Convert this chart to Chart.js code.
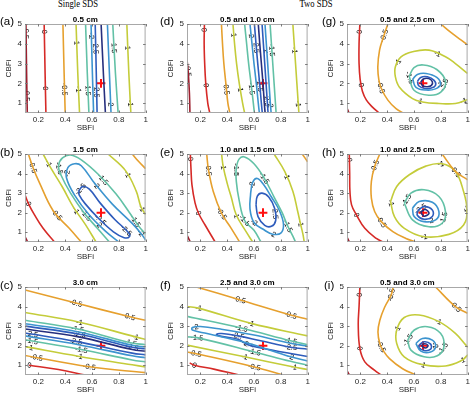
<!DOCTYPE html>
<html><head><meta charset="utf-8">
<script src="https://cdn.jsdelivr.net/npm/chart.js@4.4.1/dist/chart.umd.min.js"></script>
<style>
html,body{margin:0;padding:0;background:#fff;}
body{width:474px;height:394px;overflow:hidden;position:relative;}
canvas{position:absolute;}
.let{position:absolute;font-family:"Liberation Sans",Arial,sans-serif;font-size:11.5px;line-height:1;color:#000;white-space:nowrap;}
.hdr{position:absolute;font-family:"Liberation Serif","Times New Roman",serif;font-size:10.5px;line-height:1;color:#000;white-space:nowrap;text-align:center;transform:scaleX(0.82);}
</style></head><body>
<div class="hdr" style="left:38px;top:-1px;width:80px;">Single SDS</div>
<div class="hdr" style="left:276px;top:-1px;width:80px;">Two SDS</div>
<script>
// ---------- data ----------
const xTickValues = [0.2, 0.4, 0.6, 0.8, 1];
const yTickValues = [1, 2, 3, 4, 5];
const panelTitles = ['0.5 cm', '1.5 cm', '3.0 cm', '0.5 and 1.0 cm', '1.0 and 1.5 cm', '2.5 and 3.0 cm', '0.5 and 2.5 cm', '1.0 and 2.5 cm', '0.5 and 3.0 cm'];
const panelLetters = ['(a)', '(b)', '(c)', '(d)', '(e)', '(f)', '(g)', '(h)', '(i)'];
const optimum = [0.667, 2.0];

// contours: [level, [[SBFi, CBFi], ...]]
const contoursA = [
  [0.5, [[0.117,0.5],[0.112,2.5],[0.107,5]]],
  [0, [[0.256,0.5],[0.25,2.5],[0.243,5]]],
  [-0.5, [[0.40,0.5],[0.392,2.5],[0.383,5]]],
  [-1, [[0.507,0.5],[0.494,2.5],[0.481,5]]],
  [-1.5, [[0.577,0.5],[0.565,2.5],[0.552,5]]],
  [-2, [[0.612,0.5],[0.603,2.5],[0.593,5]]],
  [-2.5, [[0.638,0.5],[0.632,2.5],[0.624,5]]],
  [-3, [[0.70,0.5],[0.685,2.5],[0.668,5]]],
  [-2, [[0.742,0.5],[0.73,2.5],[0.715,5]]],
  [-1.5, [[0.795,0.5],[0.775,2.5],[0.755,5]]],
  [-1, [[0.89,0.5],[0.875,2.5],[0.86,5]]]
];
const labelsA = [
  [0.112,4.5,'0.5'],[0.116,1.35,'0.5'],[0.245,4.6,'0'],[0.253,1.75,'0'],
  [0.395,1.7,'-0.5'],[0.485,4.1,'-1'],[0.5,1.7,'-1'],[0.595,4.4,'-2'],
  [0.627,3.8,'-2.5'],[0.569,1.7,'-1.5'],[0.634,1.6,'-2.5'],[0.765,3.85,'-1.5'],
  [0.868,3.85,'-1'],[0.74,1.0,'-2'],[0.888,1.0,'-1']
];

const contoursB = [
  [0.5, [[0.1,0.78],[0.12,0.5]]],
  [0, [[0.1,2.9],[0.13,2.4],[0.17,1.9],[0.235,1.2],[0.32,0.5]]],
  [-0.5, [[0.125,5],[0.16,4.3],[0.21,3.5],[0.31,2.1],[0.43,1.2],[0.52,0.5]]],
  [-0.5, [[0.9,5],[0.95,4.6],[1,4.25]]],
  [-1, [[0.235,5],[0.3,4.2],[0.38,3.3],[0.46,2.3],[0.55,1.4],[0.63,0.5]]],
  [-1, [[0.72,5],[0.85,4.15],[0.93,3.1],[0.965,2.3],[1,1.9]]],
  [-1.5, [[0.73,0.5],[0.64,1.2],[0.54,2.0],[0.44,3.0],[0.37,3.9],[0.35,4.4],[0.38,4.8],[0.44,4.95],[0.52,4.7],[0.65,3.94],[0.78,2.95],[0.88,2.0],[0.95,1.3],[1,0.9]]],
  [-2, [[0.8,0.5],[0.7,1.06],[0.58,1.88],[0.47,2.9],[0.41,3.77],[0.42,4.3],[0.47,4.5],[0.52,4.4],[0.62,3.5],[0.75,2.45],[0.9,1.45],[0.97,0.9],[1,0.6]]],
  [-2.5, [[0.5,3.1],[0.53,3.33],[0.58,3.2],[0.66,2.5],[0.77,1.65],[0.87,1.0],[0.88,0.78],[0.84,0.72],[0.76,1.02],[0.65,1.7],[0.55,2.45],[0.505,2.9],[0.5,3.1]]]
];
const labelsB = [
  [0.137,4.3,'-0.5'],[0.26,4.45,'-1'],[0.36,4.28,'-1.5'],[0.42,4.0,'-2'],[0.887,4.05,'-1'],
  [0.125,2.45,'0'],[0.334,1.88,'-0.5'],[0.45,1.97,'-1'],[0.56,1.9,'-1.5'],[0.53,3.1,'-2.5'],
  [0.63,3.4,'-2'],[0.68,3.7,'-1.5'],[0.965,2.2,'-1'],[0.66,1.6,'-2.5'],[0.64,1.35,'-2'],
  [0.91,1.5,'-1.5'],[0.96,0.95,'-2'],[0.85,1.05,'-2.5']
];

const contoursC = [
  [-0.5, [[0.1,4.85],[0.48,4.18],[0.875,3.49],[1,3.3]]],
  [-1, [[0.1,3.7],[0.506,3.2],[0.924,2.45],[1,2.32]]],
  [-1.5, [[0.1,3.3],[0.493,2.85],[0.887,2.15],[1,2.05]]],
  [-2, [[0.1,3.12],[0.5,2.7],[0.9,2.02],[1,1.93]]],
  [-2.5, [[0.1,3.0],[0.506,2.58],[0.9,1.92],[1,1.84]]],
  [-3, [[0.1,2.85],[0.5,2.45],[0.9,1.8],[1,1.72]]],
  [-2.5, [[0.1,2.65],[0.48,2.22],[0.9,1.62],[1,1.53]]],
  [-2, [[0.1,2.5],[0.5,2.05],[0.9,1.48],[1,1.38]]],
  [-1.5, [[0.1,2.3],[0.518,1.8],[0.9,1.27],[1,1.17]]],
  [-1, [[0.1,1.95],[0.506,1.45],[0.9,1.02],[1,0.91]]],
  [-0.5, [[0.1,1.5],[0.58,0.92],[1,0.62]]],
  [0, [[0.13,1.0],[0.35,0.78],[0.55,0.5]]]
];
const labelsC = [
  [0.48,4.18,'-0.5'],[0.875,3.49,'-0.5'],[0.506,3.2,'-1'],[0.924,2.45,'-1'],
  [0.493,2.85,'-1.5'],[0.887,2.15,'-1.5'],[0.506,2.58,'-2.5'],[0.9,1.92,'-2.5'],
  [0.15,2.6,'-2.5'],[0.15,2.25,'-1.5'],[0.137,1.92,'-1'],[0.186,1.42,'-0.5'],[0.132,0.98,'0'],
  [0.48,2.22,'-2.5'],[0.52,1.8,'-1.5'],[0.506,1.45,'-1'],[0.58,0.92,'-0.5']
];

const contoursD = [
  [0.5, [[0.1,3.2],[0.11,2.5],[0.118,1.5],[0.122,0.5]]],
  [0, [[0.23,5],[0.228,4],[0.232,3],[0.24,2],[0.255,1],[0.27,0.5]]],
  [-0.5, [[0.357,5],[0.365,4],[0.375,3],[0.39,2],[0.405,1],[0.42,0.5]]],
  [-1, [[0.443,5],[0.455,4],[0.47,3],[0.49,2],[0.515,1],[0.53,0.5]]],
  [-1.5, [[0.53,5],[0.545,4],[0.56,3],[0.578,2],[0.595,1],[0.603,0.5]]],
  [-2, [[0.57,5],[0.585,4],[0.6,3],[0.617,2],[0.632,1],[0.64,0.5]]],
  [-2.5, [[0.603,5],[0.615,4],[0.628,3],[0.642,2],[0.655,1],[0.662,0.5]]],
  [-3, [[0.632,5],[0.643,4],[0.655,3],[0.667,2],[0.677,1],[0.683,0.5]]],
  [-2.5, [[0.66,5],[0.67,4],[0.68,3],[0.69,2],[0.7,1],[0.705,0.5]]],
  [-2, [[0.682,5],[0.692,4],[0.702,3],[0.712,2],[0.722,1],[0.728,0.5]]],
  [-1.5, [[0.72,5],[0.73,4],[0.74,3],[0.75,2],[0.76,1],[0.765,0.5]]],
  [-1, [[0.89,5],[0.9,4],[0.91,3],[0.92,2],[0.93,1],[0.935,0.5]]]
];
const labelsD = [
  [0.105,2.6,'0.5'],[0.23,4.7,'0'],[0.24,1.9,'0'],[0.387,1.74,'-0.5'],
  [0.456,4.5,'-1'],[0.5,1.74,'-1'],[0.572,4.45,'-2'],[0.622,3.85,'-2.5'],
  [0.7,3.68,'-2'],[0.735,3.68,'-1.5'],[0.905,3.68,'-1'],[0.575,1.74,'-1.5'],
  [0.643,1.9,'-2.5'],[0.7,1.15,'-2.5'],[0.724,0.94,'-2'],[0.928,0.97,'-1']
];

const contoursE = [
  [0.5, [[0.1,0.85],[0.125,0.5]]],
  [0, [[0.125,5],[0.13,4.2],[0.137,3.42],[0.16,2.5],[0.186,1.97],[0.235,1.37],[0.31,0.5]]],
  [-0.5, [[0.247,5],[0.26,4.2],[0.296,3.08],[0.358,1.97],[0.43,1.2],[0.492,0.5]]],
  [-1, [[0.358,5],[0.37,4.37],[0.4,3.5],[0.43,2.8],[0.468,1.88],[0.541,1.03],[0.59,0.5]]],
  [-1.5, [[0.652,0.5],[0.6,1.1],[0.53,1.6],[0.49,2.6],[0.468,3.6],[0.468,4.28],[0.49,4.75],[0.53,4.85],[0.6,4.5],[0.676,3.77],[0.75,2.8],[0.81,2.0],[0.848,1.37],[0.89,0.8],[0.91,0.5]]],
  [-2, [[0.575,3.0],[0.59,3.55],[0.625,3.75],[0.67,3.45],[0.73,2.8],[0.79,2.1],[0.82,1.4],[0.8,0.95],[0.74,0.9],[0.68,1.1],[0.6,1.5],[0.57,2.2],[0.575,3.0]]],
  [-2.5, [[0.615,2.4],[0.625,2.85],[0.66,3.0],[0.71,2.8],[0.755,2.2],[0.762,1.6],[0.73,1.3],[0.68,1.35],[0.63,1.8],[0.615,2.4]]],
  [-1, [[0.75,5],[0.83,4.1],[0.89,3.1],[0.925,2.1],[0.946,1.46],[0.965,0.9],[0.975,0.5]]],
  [-0.5, [[0.96,5],[1,4.6]]]
];
const labelsE = [
  [0.125,4.75,'0'],[0.186,1.97,'0'],[0.26,4.2,'-0.5'],[0.358,1.95,'-0.5'],
  [0.37,4.37,'-1'],[0.468,1.88,'-1'],[0.468,4.2,'-1.5'],[0.53,1.6,'-1.5'],
  [0.6,3.4,'-2'],[0.59,1.45,'-2'],[0.676,3.77,'-1.5'],[0.85,3.9,'-1'],
  [0.713,1.97,'-2.5'],[0.74,0.92,'-2'],[0.848,1.3,'-1.5'],[0.946,1.46,'-1']
];

const contoursF = [
  [-0.5, [[0.17,5],[0.492,4.35],[0.873,3.57],[1,3.35]]],
  [-1, [[0.1,4.0],[0.186,3.92],[0.578,3.14],[1,2.5]]],
  [-1.5, [[0.1,3.5],[0.505,2.9],[0.873,2.25],[1,2.05]]],
  [-2, [[1,1.98],[0.873,2.12],[0.6,2.55],[0.35,2.85],[0.2,2.98],[0.14,2.93],[0.14,2.8],[0.25,2.62],[0.53,2.17],[0.873,1.43],[1,1.22]]],
  [-2.5, [[1,1.82],[0.873,1.92],[0.65,2.25],[0.48,2.5],[0.36,2.62],[0.32,2.58],[0.34,2.5],[0.48,2.33],[0.554,2.05],[0.75,1.75],[0.873,1.6],[1,1.45]]],
  [-1.5, [[0.1,2.45],[0.174,2.41],[0.603,1.68],[0.873,1.2],[1,1.0]]],
  [-1, [[0.1,2.03],[0.53,1.43],[0.897,0.91],[1,0.78]]],
  [-0.5, [[0.1,1.68],[0.161,1.6],[0.603,0.91],[0.82,0.5]]],
  [0, [[0.12,1.12],[0.156,1.0],[0.3,0.8],[0.49,0.5]]]
];
const labelsF = [
  [0.492,4.35,'-0.5'],[0.873,3.57,'-0.5'],[0.186,3.92,'-1'],[0.578,3.14,'-1'],
  [0.161,2.97,'-2'],[0.505,2.88,'-1.5'],[0.48,2.5,'-2.5'],[0.174,2.41,'-1.5'],
  [0.53,2.17,'-2'],[0.554,2.05,'-2.5'],[0.603,1.68,'-1.5'],[0.53,1.43,'-1'],
  [0.161,1.6,'-0.5'],[0.603,0.91,'-0.5'],[0.156,1.0,'0'],[0.873,2.22,'-1.5'],
  [0.873,1.9,'-2.5'],[0.873,1.43,'-2'],[0.897,0.91,'-1']
];

const contoursG = [
  [0.5, [[0.1,0.75],[0.115,0.5]]],
  [0, [[0.196,5],[0.19,4],[0.19,3],[0.198,2.2],[0.215,1.6],[0.245,1.15],[0.29,0.8],[0.34,0.5]]],
  [-0.5, [[0.405,5],[0.37,4.3],[0.343,3.68],[0.33,2.84],[0.338,2.16],[0.356,1.74],[0.405,1.15],[0.466,0.72],[0.528,0.47]]],
  [-0.5, [[0.8,5],[0.88,4.55],[0.95,4.2],[1,3.95]]],
  [-1, [[1.0,2.5],[0.909,3.0],[0.835,3.34],[0.712,3.68],[0.589,3.6],[0.503,3.34],[0.461,2.84],[0.461,2.33],[0.49,1.82],[0.589,1.23],[0.663,1.06],[0.786,0.98],[0.909,0.98],[1.0,1.18]]],
  [-1.5, [[0.565,2.35],[0.6,2.8],[0.67,2.93],[0.77,2.7],[0.835,2.1],[0.8,1.55],[0.71,1.4],[0.6,1.65],[0.565,2.35]]],
  [-2, [[0.59,2.2],[0.625,2.45],[0.69,2.5],[0.77,2.3],[0.798,1.95],[0.76,1.72],[0.69,1.66],[0.615,1.8],[0.59,2.2]]],
  [-2.5, [[0.626,2.1],[0.65,2.3],[0.7,2.33],[0.75,2.15],[0.761,1.9],[0.73,1.76],[0.68,1.74],[0.635,1.88],[0.626,2.1]]],
  [-3, [[0.65,2.05],[0.67,2.22],[0.71,2.24],[0.737,2.08],[0.73,1.9],[0.7,1.83],[0.665,1.88],[0.65,2.05]]]
];
const labelsG = [
  [0.194,4.6,'0'],[0.2,1.9,'0'],[0.38,4.4,'-0.5'],[0.35,1.8,'-0.5'],
  [0.47,3.1,'-1'],[0.774,3.5,'-1'],[0.638,1.1,'-1'],[0.97,1.1,'-1'],
  [0.57,2.3,'-1.5'],[0.83,1.9,'-1.5'],[0.79,1.95,'-2']
];

const contoursH = [
  [0.5, [[0.1,0.75],[0.118,0.5]]],
  [0, [[0.117,5],[0.12,4.0],[0.122,3.08],[0.134,2.4],[0.171,1.88],[0.233,1.2],[0.319,0.68],[0.368,0.5]]],
  [-0.5, [[0.345,5],[0.307,4.37],[0.282,3.6],[0.282,2.74],[0.307,2.05],[0.356,1.54],[0.442,1.03],[0.54,0.68],[0.614,0.5]]],
  [-0.5, [[0.81,5],[0.909,4.11],[1,3.68]]],
  [-1, [[0.425,2.57],[0.471,3.34],[0.565,3.94],[0.688,4.38],[0.81,4.5],[0.909,4.1],[0.97,3.08],[0.995,2.14],[0.97,1.37],[0.86,0.89],[0.675,0.77],[0.528,1.2],[0.454,1.8],[0.425,2.57]]],
  [-1.5, [[0.528,2.48],[0.577,3.0],[0.675,3.17],[0.786,2.83],[0.835,2.05],[0.81,1.46],[0.712,1.28],[0.589,1.63],[0.528,2.48]]],
  [-2, [[0.589,2.23],[0.638,2.57],[0.737,2.53],[0.786,2.05],[0.762,1.63],[0.675,1.54],[0.601,1.8],[0.589,2.23]]],
  [-2.5, [[0.626,2.09],[0.675,2.31],[0.737,2.14],[0.737,1.8],[0.675,1.66],[0.626,1.85],[0.626,2.09]]],
  [-3, [[0.65,2.02],[0.683,2.16],[0.712,1.97],[0.675,1.82],[0.65,2.02]]]
];
const labelsH = [
  [0.12,4.7,'0'],[0.171,1.88,'0'],[0.307,4.37,'-0.5'],[0.356,1.54,'-0.5'],[0.909,4.11,'-0.5'],
  [0.43,2.5,'-1'],[0.8,4.5,'-1'],[0.99,2.2,'-1'],[0.675,0.77,'-1'],
  [0.54,2.65,'-1.5'],[0.823,1.71,'-1.5'],[0.63,2.4,'-2.5'],[0.72,1.6,'-2']
];

const contoursI = [
  [0.5, [[0.1,0.72],[0.118,0.5]]],
  [0, [[0.196,5],[0.19,4],[0.184,3.06],[0.196,1.86],[0.233,1.17],[0.307,0.74],[0.356,0.5]]],
  [-0.5, [[0.445,5],[0.43,4.6],[0.38,3.95],[0.345,3.3],[0.331,2.7],[0.345,2.1],[0.37,1.75],[0.417,1.34],[0.515,0.82],[0.614,0.5]]],
  [-0.5, [[0.761,5],[0.909,4.0],[1,3.66]]],
  [-1, [[1.05,1.7],[1,1.94],[0.909,2.63],[0.786,3.23],[0.638,3.57],[0.527,3.44],[0.471,2.8],[0.471,2.11],[0.527,1.43],[0.663,1.03],[0.835,0.96],[0.958,1.25],[1,1.51],[1.05,1.7]]],
  [-1.5, [[0.553,2.29],[0.602,2.8],[0.7,2.97],[0.798,2.63],[0.823,1.94],[0.774,1.48],[0.675,1.43],[0.577,1.77],[0.553,2.29]]],
  [-2, [[0.614,2.11],[0.663,2.37],[0.737,2.28],[0.761,1.94],[0.724,1.68],[0.651,1.72],[0.614,2.11]]],
  [-2.5, [[0.638,2.03],[0.675,2.2],[0.724,2.08],[0.724,1.82],[0.675,1.75],[0.638,1.89],[0.638,2.03]]],
  [-3, [[0.655,2.0],[0.68,2.1],[0.705,2.0],[0.685,1.88],[0.655,2.0]]]
];
const labelsI = [
  [0.196,4.6,'0'],[0.196,1.86,'0'],[0.43,4.6,'-0.5'],[0.345,1.94,'-0.5'],[0.909,4.0,'-0.5'],
  [0.471,2.85,'-1'],[0.78,3.2,'-1'],[0.663,1.03,'-1'],[0.958,1.22,'-1'],
  [0.553,2.29,'-1.5'],[0.815,1.86,'-1.5'],[0.75,1.99,'-2']
];

// ---------- styling / layout ----------
const FONT = '"Liberation Sans", Arial, Helvetica, sans-serif';
const levelColors = {'0.5':'#9c1f2e','0':'#d62a27','-0.5':'#e6a02e','-1':'#c4cc3a','-1.5':'#62c1a6','-2':'#3c94cf','-2.5':'#2e5cbc','-3':'#262f7e'};
const COLS = [{L:25,W:122},{L:187,W:122},{L:347,W:122}];
const ROWS = [{T:24,H:89},{T:154,H:88},{T:287,H:88}];
const YAXW = 27, XAXH = 21, PADT = 14, PADR = 5;
const letterX = [0, 160, 322];
const letterY = [16, 147, 280];

const allContours = [contoursA, contoursB, contoursC, contoursD, contoursE, contoursF, contoursG, contoursH, contoursI];
const allLabels = [labelsA, labelsB, labelsC, labelsD, labelsE, labelsF, labelsG, labelsH, labelsI];

function drawLabels(chart) {
  const info = chart.canvas._panel;
  const ctx = chart.ctx, xs = chart.scales.x, ys = chart.scales.y, ca = chart.chartArea;
  const nds = chart.data.datasets.length - 1;
  ctx.save();
  ctx.beginPath(); ctx.rect(ca.left, ca.top, ca.right - ca.left, ca.bottom - ca.top); ctx.clip();
  ctx.font = '7.5px ' + FONT;
  ctx.textAlign = 'center'; ctx.textBaseline = 'middle';
  for (const [lx, ly, txt] of info.labels) {
    const px = xs.getPixelForValue(lx), py = ys.getPixelForValue(ly);
    const lev = parseFloat(txt);
    let best = null;
    for (let pass = 0; pass < 2 && !best; pass++) {
      chart.data.datasets.forEach((ds, di) => {
        if (di >= nds) return;
        if (pass === 0 && ds.contourLevel !== lev) return;
        const pts = ds.data.map(p => [xs.getPixelForValue(p.x), ys.getPixelForValue(p.y)]);
        for (let i = 0; i < pts.length - 1; i++) {
          const [ax, ay] = pts[i], [bx, by] = pts[i + 1];
          const dx = bx - ax, dy = by - ay, L2 = dx * dx + dy * dy || 1;
          let t = ((px - ax) * dx + (py - ay) * dy) / L2; t = Math.max(0, Math.min(1, t));
          const qx = ax + t * dx, qy = ay + t * dy;
          const d = Math.hypot(px - qx, py - qy);
          if (!best || d < best.d) best = {d, qx, qy, ang: Math.atan2(dy, dx)};
        }
      });
    }
    if (!best) continue;
    let ang = best.ang;
    if (ang > Math.PI / 2) ang -= Math.PI;
    if (ang <= -Math.PI / 2) ang += Math.PI;
    const w = ctx.measureText(txt).width + 2;
    ctx.save();
    ctx.translate(best.qx, best.qy); ctx.rotate(ang);
    ctx.fillStyle = '#fff'; ctx.fillRect(-w / 2, -4, w, 8);
    ctx.fillStyle = '#000'; ctx.fillText(txt, 0, 0.3);
    ctx.restore();
  }
  ctx.restore();
}

function drawBox(chart) {
  const ctx = chart.ctx, ca = chart.chartArea, xs = chart.scales.x, ys = chart.scales.y;
  ctx.save();
  ctx.strokeStyle = '#a8a8a8'; ctx.lineWidth = 1;
  ctx.strokeRect(ca.left + 0.5, ca.top + 0.5, ca.right - ca.left - 1, ca.bottom - ca.top - 1);
  ctx.strokeStyle = '#7a7a7a';
  ctx.beginPath();
  for (const v of xTickValues) {
    const x = Math.round(xs.getPixelForValue(v)) + 0.5;
    ctx.moveTo(x, ca.bottom); ctx.lineTo(x, ca.bottom - 2.5);
    ctx.moveTo(x, ca.top); ctx.lineTo(x, ca.top + 2.5);
  }
  for (const v of yTickValues) {
    const y = Math.round(ys.getPixelForValue(v)) + 0.5;
    ctx.moveTo(ca.left, y); ctx.lineTo(ca.left + 2.5, y);
    ctx.moveTo(ca.right, y); ctx.lineTo(ca.right - 2.5, y);
  }
  ctx.stroke();
  ctx.restore();
}

const panelPlugin = {
  id: 'panelDeco',
  beforeDatasetDraw(chart, args) {
    if (args.index === chart.data.datasets.length - 1) drawLabels(chart);
  },
  afterDatasetsDraw(chart) { drawBox(chart); },
  afterDraw(chart) {
    const ctx = chart.ctx, ca = chart.chartArea;
    ctx.save();
    ctx.font = 'bold 8px ' + FONT; ctx.fillStyle = '#000';
    ctx.textAlign = 'center'; ctx.textBaseline = 'alphabetic';
    ctx.fillText(chart.canvas._panel.title, (ca.left + ca.right) / 2, ca.top - 2.5);
    ctx.restore();
  }
};

for (let p = 0; p < 9; p++) {
  const ci = Math.floor(p / 3), ri = p % 3;
  const col = COLS[ci], row = ROWS[ri];
  const cv = document.createElement('canvas');
  const cw = col.W + YAXW + PADR, ch = row.H + PADT + XAXH;
  cv.width = cw; cv.height = ch;
  cv.style.left = (col.L - YAXW) + 'px'; cv.style.top = (row.T - PADT) + 'px';
  cv.style.width = cw + 'px'; cv.style.height = ch + 'px';
  cv._panel = {title: panelTitles[p], labels: allLabels[p]};
  document.body.appendChild(cv);

  const lt = document.createElement('div');
  lt.className = 'let'; lt.textContent = panelLetters[p];
  lt.style.left = letterX[ci] + (p === 8 ? 2 : 0) + 'px'; lt.style.top = letterY[ri] + 'px';
  document.body.appendChild(lt);

  const datasets = allContours[p].map(([lev, pts]) => ({
    contourLevel: lev,
    data: pts.map(([x, y]) => ({x, y})),
    showLine: true, pointRadius: 0, borderWidth: 1.6,
    borderColor: levelColors[String(lev)], tension: 0.4, fill: false
  }));
  datasets.push({
    data: [{x: optimum[0], y: optimum[1]}], showLine: false,
    pointStyle: 'cross', pointRadius: 4.4, pointBorderWidth: 2,
    pointBorderColor: '#ff1010', pointBackgroundColor: '#ff1010'
  });

  new Chart(cv, {
    type: 'scatter',
    data: {datasets},
    plugins: [panelPlugin],
    options: {
      responsive: false, animation: false, devicePixelRatio: 1,
      layout: {padding: {left: 0, right: PADR, top: PADT, bottom: 0}},
      plugins: {legend: {display: false}, tooltip: {enabled: false}},
      scales: {
        x: {
          type: 'linear', min: 0.1, max: 1,
          grid: {display: false, drawTicks: false}, border: {display: false},
          afterBuildTicks: s => { s.ticks = xTickValues.map(v => ({value: v})); },
          afterFit: s => { s.height = XAXH; },
          ticks: {font: {family: FONT, size: 8}, color: '#262626', padding: 2, maxRotation: 0, autoSkip: false, callback: v => String(v)},
          title: {display: true, text: 'SBFi', font: {family: FONT, size: 8}, color: '#262626', padding: {top: 0, bottom: 1.5}}
        },
        y: {
          type: 'linear', min: 0.5, max: 5,
          grid: {display: false, drawTicks: false}, border: {display: false},
          afterBuildTicks: s => { s.ticks = yTickValues.map(v => ({value: v})); },
          afterFit: s => { s.width = YAXW; },
          ticks: {font: {family: FONT, size: 8}, color: '#262626', padding: 3, autoSkip: false, callback: v => String(v)},
          title: {display: true, text: 'CBFi', font: {family: FONT, size: 8}, color: '#262626', padding: {top: 6, bottom: 0}}
        }
      }
    }
  });
}
</script>
</body></html>
